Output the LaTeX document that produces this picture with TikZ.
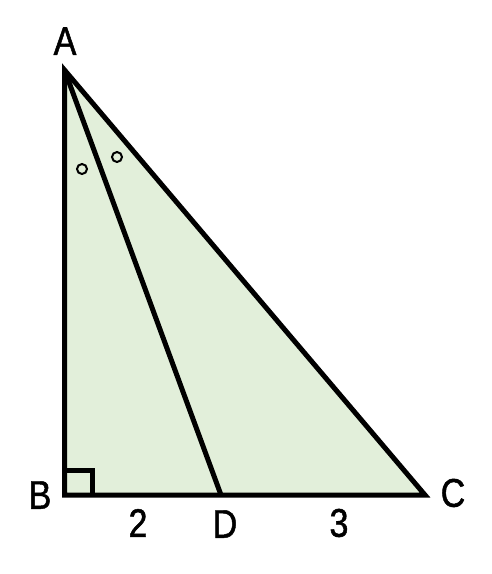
\documentclass[tikz,border=0pt]{standalone}
\usepackage{fontspec}
\setmainfont{Liberation Sans}
\newfontfamily\lblfont[FakeStretch=0.85,FakeBold=1.2]{Liberation Sans}
\begin{document}
\begin{tikzpicture}[x=1pt,y=-1pt,
  edge/.style={line width=5pt,line join=miter},
  lbl/.style={font=\lblfont\fontsize{40}{42}\selectfont,inner sep=0pt},
  anglemark/.style={line width=2pt,draw=black,circle,minimum size=10pt,inner sep=0pt}]
\useasboundingbox (0,0) rectangle (491,574);
\coordinate (A) at (64.5,70);
\coordinate (B) at (64.5,495);
\coordinate (C) at (425,495);
\coordinate (D) at (221,495);
\fill[fill={rgb,255:red,226;green,239;blue,218}] (A) -- (B) -- (C) -- cycle;
\draw[edge] (64.5,470) -- (92,470) -- (92,495);
\draw[edge] (A) -- (D);
\draw[edge] (A) -- (B) -- (C) -- cycle;
\node[anglemark] (m1) at (82,169) {};
\node[anglemark] (m2) at (117,157) {};
\node[lbl] (la) at (65,41) {A};
\node[lbl] (lb) at (40,495) {B};
\node[lbl] (lc) at (453,493) {C};
\node[lbl] (ld) at (225,524) {D};
\node[lbl] (l2) at (138,523) {2};
\node[lbl] (l3) at (339,523) {3};
\end{tikzpicture}
\end{document}
